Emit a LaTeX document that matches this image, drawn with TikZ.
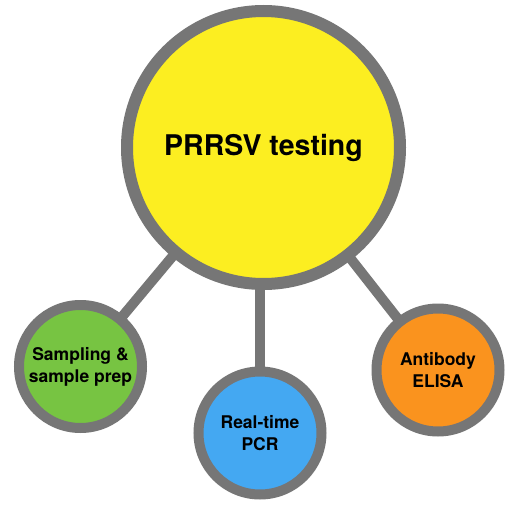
\documentclass[tikz,border=0pt]{standalone}
\usepackage{fontspec}
\setmainfont{TeX Gyre Heros}
\usetikzlibrary{backgrounds}
\definecolor{ringgray}{HTML}{767676}
\definecolor{hubyellow}{HTML}{FCEE21}
\definecolor{leafgreen}{HTML}{77C442}
\definecolor{leafblue}{HTML}{44A8F2}
\definecolor{leaforange}{HTML}{FA931E}
\tikzset{
  hub/.style={circle, draw=ringgray, line width=12pt, fill=hubyellow, inner sep=0pt,
    minimum size=273pt, font=\bfseries\fontsize{28.5}{34}\selectfont, text=black},
  leaf/.style={circle, draw=ringgray, line width=10pt, inner sep=0pt,
    minimum size=123pt, align=center, font=\bfseries\fontsize{17.5}{22}\selectfont, text=black},
  link/.style={draw=ringgray, line width=10pt}
}
\begin{document}
\begin{tikzpicture}[x=1pt, y=-1pt]
\useasboundingbox (0,0) rectangle (520,506);
\node[hub] (main) at (263.5,147.5) {PRRSV testing};
\node[leaf, fill=leafgreen] (sampling) at (80.5,366.5) {Sampling \&\\sample prep};
\node[leaf, fill=leafblue] (pcr) at (260,433) {Real-time\\PCR};
\node[leaf, fill=leaforange] (elisa) at (438,370) {Antibody\\ELISA};
\begin{scope}[on background layer]
\fill[white] (0,0) rectangle (520,506);
\draw[link] (main.center) -- (sampling.center);
\draw[link] (pcr.center) -- (pcr.center |- main.center);
\draw[link] (main.center) -- (elisa.center);
\end{scope}
\end{tikzpicture}
\end{document}
